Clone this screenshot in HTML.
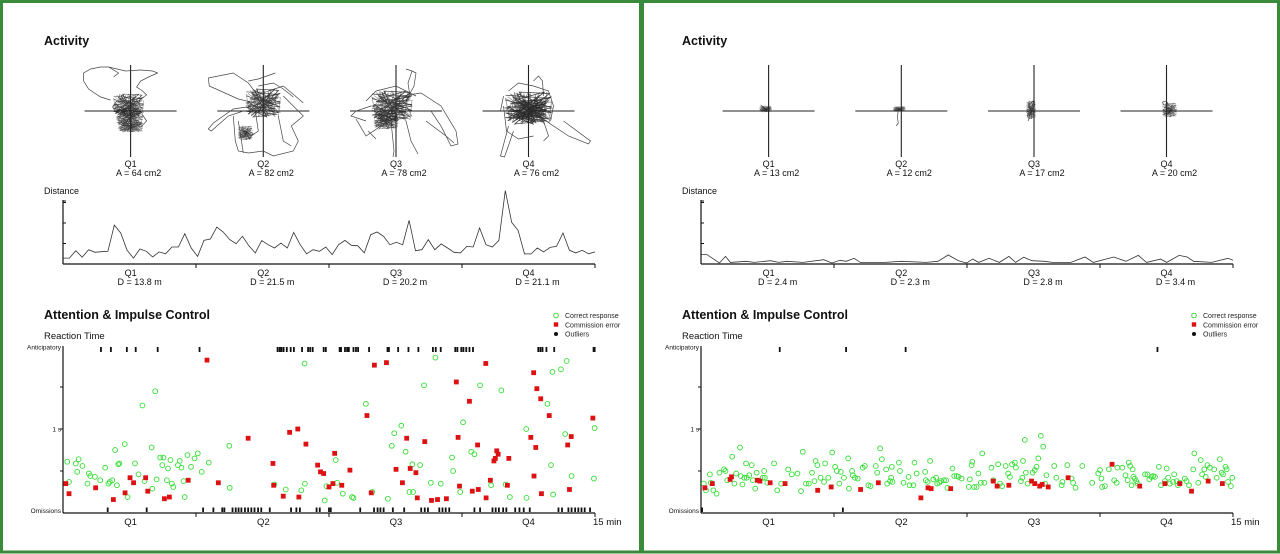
<!DOCTYPE html>
<html><head><meta charset="utf-8">
<style>
html,body{margin:0;padding:0;background:#fff;}
body{width:1280px;height:554px;overflow:hidden;}
svg{display:block;font-family:"Liberation Sans",sans-serif;}
</style></head>
<body>
<svg id="root" width="1280" height="554" viewBox="0 0 1280 554">
  <rect x="0" y="0" width="1280" height="554" fill="#fff"/>
  <rect x="1.5" y="1.5" width="639" height="550.5" fill="none" stroke="#3a8a3c" stroke-width="3"/>
  <rect x="642.5" y="1.5" width="636" height="550.5" fill="none" stroke="#3a8a3c" stroke-width="3"/>
  <g id="left"></g>
  <g id="right" transform="translate(638,0)"></g>
</svg>
<script>
// ---------- DATA ----------
const quarterLabels = ["Q1","Q2","Q3","Q4"];
const leftAreas = [64, 82, 78, 76];
const rightAreas = [13, 12, 17, 20];
const leftDistances = [13.8, 21.5, 20.2, 21.1];
const rightDistances = [2.4, 2.3, 2.8, 3.4];

const leftDistValues = [0.29,0.29,0.65,0.33,0.70,0.57,0.60,0.62,1.90,1.51,0.67,0.29,0.73,0.62,0.34,0.59,0.50,0.83,0.83,1.48,0.78,0.37,1.15,1.22,1.80,1.56,1.19,0.99,1.35,0.89,0.54,1.14,0.94,0.78,1.02,0.78,1.54,0.94,0.50,0.70,0.62,0.83,0.46,0.94,1.15,0.91,0.89,0.54,1.43,1.56,1.35,0.94,1.06,0.94,2.13,0.65,0.70,1.19,0.70,0.98,0.78,0.57,0.54,0.86,0.83,1.76,0.94,0.83,1.15,3.58,2.03,1.64,0.50,0.49,0.78,0.59,0.81,0.86,1.51,0.67,0.54,0.67,0.50,0.59];
const rightDistTimes = [0,0.17,0.52,0.69,0.83,1.27,1.5,1.96,2.19,2.42,2.88,3.46,3.69,3.92,4.09,4.32,4.49,5.18,5.64,6.34,6.68,6.97,7.26,7.49,7.66,7.83,8.12,8.41,8.68,8.87,9.1,9.33,9.68,9.91,10.43,10.83,11.06,11.64,11.98,12.33,12.56,12.96,13.13,13.48,13.71,13.89,14.4,14.86,15];
const rightDistValues = [0.46,0.46,0.05,0.37,0.08,0.13,0.08,0.16,0.08,0.13,0.08,0.21,0.05,0.18,0.13,0.28,0.08,0.08,0.13,0.08,0.13,0.44,0.16,0.05,0.24,0.08,0.28,0.08,0.37,0.08,0.33,0.16,0.13,0.08,0.08,0.34,0.08,0.34,0.13,0.42,0.08,0.24,0.08,0.42,0.34,0.13,0.08,0.28,0.18];

const leftCorrectT = [0.12,0.17,0.36,0.44,0.40,0.55,0.69,0.73,0.77,0.90,1.05,1.19,1.28,1.32,1.39,1.47,1.52,1.56,1.59,1.74,1.82,2.03,2.13,2.24,2.30,2.50,2.52,2.60,2.64,2.74,2.83,2.80,2.93,2.96,3.03,3.07,3.11,3.24,3.29,3.34,3.43,3.40,3.51,3.61,3.71,3.80,3.91,4.11,4.70,4.69,5.96,6.28,6.72,6.82,6.81,7.38,7.43,7.69,7.73,7.89,8.15,8.19,8.54,8.72,9.16,9.27,9.34,9.54,9.66,9.77,9.85,9.87,10.07,10.18,10.37,10.50,10.65,10.97,11.00,11.20,11.28,11.51,11.60,11.76,12.07,12.36,12.48,12.60,13.06,13.07,13.66,13.76,13.80,13.82,14.04,14.16,14.20,14.34,14.97,14.99];
const leftCorrectRT = [0.61,0.37,0.59,0.64,0.49,0.56,0.35,0.47,0.44,0.43,0.39,0.54,0.35,0.37,0.39,0.75,0.33,0.58,0.59,0.82,0.19,0.59,0.46,1.28,0.38,0.78,0.29,1.45,0.40,0.66,0.66,0.57,0.39,0.53,0.63,0.35,0.31,0.57,0.62,0.54,0.19,0.38,0.69,0.55,0.65,0.71,0.49,0.60,0.30,0.80,0.34,0.28,0.27,0.35,1.78,0.15,0.32,0.63,0.36,0.23,0.19,0.18,1.30,0.25,0.17,0.80,0.95,1.04,0.73,0.25,0.58,0.25,0.57,1.52,0.36,1.85,0.35,0.66,0.50,0.25,1.08,0.73,0.70,1.52,0.33,1.46,0.34,0.19,1.00,0.18,1.30,0.57,1.68,0.22,1.71,0.94,1.81,0.44,0.41,1.01];
const leftErrorT = [0.08,0.17,0.92,1.42,1.75,1.89,1.99,2.33,2.39,2.86,3.00,3.53,4.06,4.38,5.22,5.92,5.94,6.21,6.39,6.62,6.65,6.85,7.18,7.26,7.35,7.50,7.61,7.66,7.86,8.09,8.57,8.69,8.78,9.12,9.39,9.57,9.69,9.79,9.95,9.99,10.20,10.39,10.56,10.81,11.09,11.14,11.18,11.46,11.54,11.69,11.71,11.92,11.93,12.05,12.15,12.19,12.23,12.27,12.57,12.53,13.19,13.27,13.28,13.33,13.36,13.47,13.49,13.71,14.23,14.28,14.33,14.94];
const leftErrorRT = [0.35,0.23,0.30,0.16,0.24,0.42,0.36,0.42,0.26,0.17,0.19,0.39,1.82,0.36,0.89,0.59,0.33,0.20,0.96,1.00,0.19,0.82,0.57,0.49,0.47,0.31,0.35,0.71,0.33,0.51,1.16,0.24,1.76,1.79,0.52,0.36,0.89,0.53,0.48,0.18,0.85,0.15,0.16,0.17,1.56,0.90,0.32,1.33,0.26,0.81,0.28,1.78,0.18,0.39,0.62,0.65,0.74,0.70,0.65,0.33,0.90,1.67,0.44,0.78,1.48,1.36,0.23,1.16,0.81,0.28,0.91,1.13];
const leftAnticipatoryT = [1.07,1.35,1.80,2.05,2.67,3.85,6.05,6.11,6.16,6.22,6.31,6.42,6.51,6.74,6.91,6.97,7.04,7.35,7.41,7.80,7.84,7.95,8.01,8.06,8.19,8.26,8.32,8.63,9.15,9.19,9.45,9.74,10.02,10.43,10.51,10.65,11.06,11.12,11.23,11.29,11.37,11.46,11.56,13.40,13.46,13.52,13.63,13.85,14.96,14.99];
const leftOmissionT = [1.26,2.36,3.95,4.24,4.49,4.55,4.78,4.87,4.95,5.03,5.13,5.22,5.31,5.40,5.50,5.59,5.83,6.43,6.58,6.68,7.15,7.24,7.50,7.55,8.38,8.77,8.87,8.95,9.04,9.30,9.62,10.10,10.20,10.29,10.61,10.70,10.79,10.89,11.60,11.76,12.11,12.20,12.29,12.41,12.50,12.75,12.87,12.99,13.16,13.97,14.07,14.25,14.34,14.44,14.53,14.62,14.71,14.86];

const rightCorrectT = [0.08,0.14,0.25,0.28,0.35,0.44,0.52,0.65,0.69,0.74,0.88,0.94,0.99,1.10,1.12,1.17,1.22,1.27,1.29,1.36,1.43,1.46,1.53,1.57,1.74,1.78,1.80,1.87,2.06,2.15,2.26,2.46,2.56,2.72,2.82,2.87,2.96,3.04,3.13,3.20,3.23,3.28,3.37,3.47,3.50,3.59,3.70,3.78,3.83,3.90,3.94,4.03,4.15,4.17,4.26,4.28,4.34,4.42,4.56,4.62,4.72,4.78,4.93,4.97,5.05,5.10,5.22,5.25,5.33,5.36,5.40,5.38,5.58,5.61,5.71,5.85,5.88,5.99,6.02,6.08,6.32,6.34,6.39,6.46,6.55,6.63,6.66,6.72,6.76,6.85,6.91,6.95,7.09,7.14,7.21,7.26,7.35,7.55,7.58,7.63,7.65,7.70,7.77,7.82,7.89,7.93,7.99,8.19,8.24,8.38,8.43,8.49,8.59,8.66,8.71,8.77,8.85,8.88,9.02,9.06,9.08,9.13,9.16,9.21,9.35,9.41,9.46,9.51,9.58,9.65,9.70,9.74,9.96,10.02,10.17,10.19,10.33,10.45,10.49,10.56,10.75,11.03,11.20,11.25,11.29,11.31,11.39,11.50,11.65,11.72,11.74,11.88,11.97,12.03,12.06,12.10,12.14,12.17,12.19,12.23,12.27,12.31,12.52,12.59,12.64,12.70,12.75,12.80,12.91,12.97,13.08,13.13,13.17,13.22,13.31,13.34,13.41,13.45,13.50,13.64,13.69,13.76,13.88,13.91,14.02,14.09,14.13,14.19,14.23,14.28,14.35,14.47,14.54,14.63,14.68,14.72,14.79,14.82,14.86,14.94,14.98];
const rightCorrectRT = [0.35,0.27,0.46,0.36,0.27,0.23,0.48,0.52,0.50,0.39,0.67,0.35,0.47,0.78,0.44,0.34,0.42,0.59,0.42,0.45,0.57,0.39,0.29,0.48,0.42,0.50,0.42,0.36,0.59,0.27,0.35,0.52,0.46,0.47,0.26,0.73,0.35,0.35,0.48,0.38,0.62,0.57,0.42,0.37,0.59,0.42,0.72,0.55,0.50,0.35,0.49,0.42,0.65,0.29,0.50,0.45,0.42,0.41,0.54,0.56,0.33,0.32,0.56,0.48,0.77,0.64,0.52,0.35,0.38,0.42,0.37,0.55,0.60,0.50,0.36,0.43,0.33,0.33,0.60,0.47,0.49,0.39,0.37,0.62,0.40,0.42,0.35,0.36,0.38,0.39,0.39,0.30,0.53,0.44,0.44,0.43,0.41,0.31,0.40,0.57,0.61,0.31,0.31,0.47,0.36,0.71,0.36,0.54,0.39,0.58,0.35,0.32,0.56,0.47,0.43,0.58,0.60,0.54,0.38,0.42,0.62,0.87,0.48,0.35,0.48,0.51,0.55,0.65,0.92,0.79,0.35,0.45,0.56,0.42,0.33,0.37,0.57,0.41,0.36,0.30,0.56,0.36,0.47,0.51,0.41,0.31,0.32,0.52,0.39,0.36,0.54,0.54,0.45,0.39,0.60,0.56,0.33,0.52,0.43,0.41,0.38,0.35,0.46,0.46,0.40,0.43,0.44,0.43,0.55,0.33,0.38,0.53,0.42,0.35,0.37,0.46,0.38,0.33,0.36,0.41,0.38,0.33,0.52,0.71,0.36,0.63,0.46,0.52,0.43,0.57,0.54,0.52,0.42,0.64,0.48,0.46,0.55,0.52,0.37,0.32,0.42];
const rightErrorT = [0.11,0.32,0.82,0.86,1.59,1.66,1.95,2.37,3.29,3.67,4.50,5.00,6.20,6.40,6.49,7.04,8.24,8.35,8.68,9.32,9.41,9.55,9.62,9.79,10.35,11.59,12.37,13.08,13.50,13.83,14.30,14.70];
const rightErrorRT = [0.30,0.35,0.40,0.43,0.39,0.38,0.36,0.35,0.27,0.31,0.28,0.36,0.18,0.30,0.29,0.29,0.38,0.32,0.33,0.38,0.35,0.32,0.34,0.31,0.42,0.58,0.32,0.35,0.35,0.26,0.38,0.35];
const rightAnticipatoryT = [2.22,4.09,5.77,12.87];
const rightOmissionT = [0.03,4.00];

const rtTickLabels = ["Anticipatory","1 s","Omissions"];
const legendLabels = ["Correct response","Commission error","Outliers"];

// ---------- hand-traced activity trajectories ----------
const CORE = "M-10,-8 9,-6 -8,-3 10,-1 -9,2 7,4 -10,6 8,8 -6,10 9,-9 -4,-10 3,9 -9,-1 10,3 -7,-7 6,6 -10,0 8,-4 -3,7 5,-8 -8,5 10,0 -5,-9 2,10 -10,3 9,7 -6,-5 7,-10 -9,8 4,-2 -7,9 10,-7 -2,-3 6,1 -10,-5";
const leftTraces = [
  {arms:"M-20,-11 -30,-14 -42,-22 -47,-30 -47,-38 -40,-42 -30,-44 -22,-44 -12,-38 -17,-34 M-22,-44 -5,-40 10,-41 22,-40 27,-38 18,-34 10,-30 6,-24 12,-20 16,-16 10,-12 M-14,-10 -18,-4 -14,2 M12,4 16,10 10,16", cores:[[-2,-6,1.5,1.1],[-1,6,1.3,0.9],[0,16,1.2,0.5]]},
  {arms:"M-55,-33 -30,-38 -15,-28 -5,-15 M-55,-33 -54,-25 -25,-12 -8,-8 M-5,-25 10,-28 20,-22 30,-14 M-10,-5 -30,-2 -50,12 -55,18 -52,20 -35,5 -20,0 M-30,5 -28,30 -25,40 -15,42 0,40 10,45 30,40 35,30 28,15 40,5 30,-5 20,-15 M-8,0 -5,20 -12,25 -18,20 -14,28 -10,22 M15,5 20,30 28,35 M-25,10 -20,42 M5,-20 20,-25 32,-15 40,-8 M-15,-30 -5,-32 12,-38", cores:[[0,-8,1.7,1.4],[-18,22,0.7,0.7]]},
  {arms:"M10,-42 16,-40 12,-28 14,-15 M16,-40 20,-38 18,-25 10,-10 M5,-15 25,-18 45,-5 60,20 62,33 55,35 45,15 35,0 M30,10 50,25 58,32 M-25,-5 -40,0 -45,5 -30,10 M10,10 15,30 22,43 M-5,10 -2,40 -3,46 M-28,20 -20,28 M-30,-10 -20,-20 0,-25 20,-15 M-40,8 -30,25 -15,15", cores:[[-4,-5,2.0,1.5],[-10,10,1.2,0.8]]},
  {arms:"M-20,15 -28,45 -24,46 -15,20 M10,5 40,25 60,33 62,30 35,10 M5,-30 10,-35 14,-30 15,-15 M-25,-5 -22,20 -10,28 5,25 M15,10 20,25 15,30 M-20,-20 -10,-28 5,-25 20,-20 25,-5 22,10 M-25,-15 -28,0", cores:[[0,-3,2.3,1.6],[2,0,1.6,1.1]]}
];
const rightTraces = [
  {arms:"M-8,-6 -3,-2 2,-2", cores:[[-3,-2,0.6,0.3]]},
  {arms:"M-3,0 -4,6 -3,12 -5,15", cores:[[-2,-2,0.6,0.25]]},
  {arms:"M-3,-8 -1,-10 1,-6 M-4,6 -6,10", cores:[[-3,-1,0.45,0.9]]},
  {arms:"M-3,-6 -4,-9 0,-10 2,-6", cores:[[3,-1,0.7,0.7]]}
];

// ---------- helpers ----------
const NS = "http://www.w3.org/2000/svg";
function mk(tag, attrs, parent, text){
  const e = document.createElementNS(NS, tag);
  for (const k in attrs) e.setAttribute(k, attrs[k]);
  if (text !== undefined) e.textContent = text;
  parent.appendChild(e);
  return e;
}
const X0 = 63, X1 = 595;
function xTime(t){ return X0 + (X1 - X0) * t / 15; }
function yRT(rt){ return 513 - rt * 84; }
function yDist(v){ return 264 - v * 20.5; }
const centersX = [130.6, 263.3, 396, 528.5];
const CY = 111;

function buildPanel(g, o){
  let e = mk("text", {x:44, y:45, "font-size":12.5, "font-weight":"bold", fill:"#111"}, g, "Activity");
  
  

  quarterLabels.forEach((q, i) => {
    const cx = centersX[i];
    const cg = mk("g", {transform:`translate(${cx},${CY})`}, g);
    
    
    mk("line", {x1:-46, y1:0, x2:46, y2:0, stroke:"#222", "stroke-width":1.1}, cg);
    mk("line", {x1:0, y1:-46, x2:0, y2:46, stroke:"#222", "stroke-width":1.1}, cg);
    const tr = o.traces[i];
    mk("path", {d:tr.arms, fill:"none", stroke:"#444", "stroke-width":0.7}, cg);
    tr.cores.forEach(c => {
      mk("path", {d:CORE, fill:"none", stroke:"#222", "stroke-width":0.45, "stroke-opacity":0.85, transform:`translate(${c[0]},${c[1]}) scale(${c[2]},${c[3]})`}, cg);
      mk("path", {d:CORE, fill:"none", stroke:"#333", "stroke-width":0.35, "stroke-opacity":0.55, transform:`translate(${c[0]},${c[1]}) rotate(90) scale(${c[3]},${c[2]})`}, cg);
    });
    let t1 = mk("text", {x:cx, y:167, "font-size":9, "text-anchor":"middle", fill:"#111"}, g, q);
    
    
    let t2 = mk("text", {x:cx+8, y:176, "font-size":9, "text-anchor":"middle", fill:"#111"}, g, "A = " + o.areas[i] + " cm2");
    
    
  });

  e = mk("text", {x:44, y:194, "font-size":9, fill:"#111"}, g, "Distance");
  
  
  const dg = mk("g", {}, g);
  
  
  mk("line", {x1:X0, y1:200, x2:X0, y2:264, stroke:"#111", "stroke-width":1.2}, dg);
  mk("line", {x1:X0, y1:264, x2:X1, y2:264, stroke:"#111", "stroke-width":1.2}, dg);
  [1,2,3].forEach(v => mk("line", {x1:X0, y1:yDist(v), x2:X0+3, y2:yDist(v), stroke:"#111", "stroke-width":1}, dg));
  mk("line", {x1:X0, y1:201, x2:X0+3, y2:201, stroke:"#111"}, dg);
  [3.75,7.5,11.25,15].forEach(t => mk("line", {x1:xTime(t), y1:264, x2:xTime(t), y2:268, stroke:"#111"}, dg));
  let pts = o.distT.map((t, i) => xTime(t).toFixed(1) + "," + yDist(o.distV[i]).toFixed(1)).join(" ");
  const pl = mk("polyline", {points:pts, fill:"none", stroke:"#333", "stroke-width":0.8}, dg);
  
  
  quarterLabels.forEach((q, i) => {
    let a = mk("text", {x:centersX[i], y:276, "font-size":9, "text-anchor":"middle", fill:"#111"}, g, q);
    
    
    let b = mk("text", {x:centersX[i]+9, y:285, "font-size":9, "text-anchor":"middle", fill:"#111"}, g, "D = " + o.dist[i] + " m");
    
    
  });

  e = mk("text", {x:44, y:319, "font-size":12.5, "font-weight":"bold", fill:"#111"}, g, "Attention & Impulse Control");
  
  
  e = mk("text", {x:44, y:339, "font-size":9.5, fill:"#111"}, g, "Reaction Time");
  
  
  const lg = mk("g", {}, g);
  
  
  mk("circle", {cx:556, cy:315.5, r:2.3, fill:"none", stroke:"#33cc33", "stroke-width":0.9}, lg);
  mk("rect", {x:553.8, y:322.3, width:4.4, height:4.4, fill:"#dd1111"}, lg);
  mk("circle", {cx:556, cy:334, r:2, fill:"#111"}, lg);
  legendLabels.forEach((s, i) => {
    const t = mk("text", {x:565, y:318 + i*9.3, "font-size":7, fill:"#222"}, lg, s);
    
    
  });
  const rg = mk("g", {}, g);
  
  
  mk("line", {x1:X0, y1:346, x2:X0, y2:513, stroke:"#111", "stroke-width":1.2}, rg);
  mk("line", {x1:X0, y1:513, x2:X1, y2:513, stroke:"#111", "stroke-width":1.2}, rg);
  [0.5,1,1.5].forEach(v => mk("line", {x1:X0-3, y1:yRT(v), x2:X0, y2:yRT(v), stroke:"#111"}, rg));
  [3.75,7.5,11.25,15].forEach(t => mk("line", {x1:xTime(t), y1:513, x2:xTime(t), y2:517, stroke:"#111"}, rg));
  const ylab = [[rtTickLabels[0], 349.5],[rtTickLabels[1], yRT(1)+2.5],[rtTickLabels[2], 513]];
  ylab.forEach(p => {
    const t = mk("text", {x:61, y:p[1], "font-size":6.5, "text-anchor":"end", fill:"#111"}, rg, p[0]);
    
    
  });
  quarterLabels.forEach((q, i) => {
    const t = mk("text", {x:centersX[i], y:525, "font-size":9.5, "text-anchor":"middle", fill:"#111"}, rg, q);
    
    
  });
  e = mk("text", {x:593, y:525, "font-size":9.5, fill:"#111"}, rg, "15 min");
  
  
  o.antT.forEach(t => {
    const r = mk("rect", {x:xTime(t)-0.9, y:347, width:1.8, height:5, fill:"#111"}, rg);
    
    
  });
  o.omT.forEach(t => {
    const r = mk("rect", {x:xTime(t)-0.9, y:507.5, width:1.8, height:4.5, fill:"#111"}, rg);
    
    
  });
  o.corT.forEach((t, i) => {
    const c = mk("circle", {cx:xTime(t), cy:yRT(o.corRT[i]), r:2.4, fill:"none", stroke:"#33dd33", "stroke-width":0.9}, rg);
    
    
  });
  o.errT.forEach((t, i) => {
    const r = mk("rect", {x:xTime(t)-2.4, y:yRT(o.errRT[i])-2.4, width:4.8, height:4.8, fill:"#dd1111"}, rg);
    
    
  });
}

const leftDistTimes = leftDistValues.map((v, i) => i * 15 / (leftDistValues.length - 1));
buildPanel(document.getElementById("left"), {
  traces:leftTraces, areas:leftAreas, dist:leftDistances, distT:leftDistTimes, distV:leftDistValues,
  antT:leftAnticipatoryT, omT:leftOmissionT, corT:leftCorrectT, corRT:leftCorrectRT, errT:leftErrorT, errRT:leftErrorRT
});
buildPanel(document.getElementById("right"), {
  traces:rightTraces, areas:rightAreas, dist:rightDistances, distT:rightDistTimes, distV:rightDistValues,
  antT:rightAnticipatoryT, omT:rightOmissionT, corT:rightCorrectT, corRT:rightCorrectRT, errT:rightErrorT, errRT:rightErrorRT
});
</script>
</body></html>
